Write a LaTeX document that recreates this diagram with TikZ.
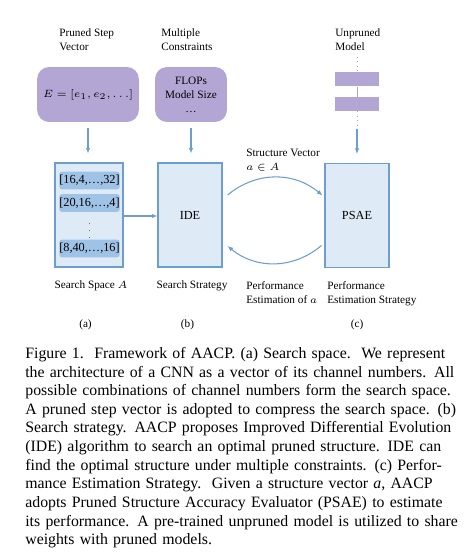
\documentclass[tikz,border=0pt]{standalone}
\usepackage{fontspec}
\setmainfont{Liberation Serif}
\usetikzlibrary{arrows.meta, positioning}
\definecolor{boxpurple}{RGB}{180,166,212}
\definecolor{boxblue}{RGB}{222,234,246}
\definecolor{itemblue}{RGB}{158,195,230}
\definecolor{lineblue}{RGB}{108,158,208}
\definecolor{modelgray}{RGB}{170,170,178}
\newcommand{\lblfont}{\fontsize{6.4}{8}\selectfont}
\newcommand{\capfont}{\fontsize{9}{10.6}\selectfont}
\newcommand{\capline}[1]{\hbox to\linewidth{#1}}

\tikzset{
  inbox/.style={draw=none, fill=boxpurple, rounded corners=0.24cm, minimum width=1.4cm,
    minimum height=1.1cm, align=center, font=\lblfont},
  stagebox/.style={draw=lineblue, line width=0.6pt, fill=boxblue, minimum width=1.28cm,
    minimum height=2.08cm, font=\fontsize{7}{8}\selectfont},
  itembox/.style={fill=itemblue, rounded corners=0.06cm, minimum width=1.18cm,
    minimum height=0.36cm, inner sep=0pt, font=\fontsize{7}{8}\selectfont},
  layerbox/.style={fill=boxpurple, minimum width=0.88cm, minimum height=0.28cm, inner sep=0pt},
  flow/.style={draw=lineblue, line width=0.6pt, -{Latex[length=3.2pt,width=2.6pt]}},
  modelline/.style={draw=modelgray, line width=0.5pt},
  lbl/.style={font=\lblfont, inner sep=0pt, align=left},
}

\begin{document}
\begin{tikzpicture}[x=0.02cm, y=-0.02cm]
    \useasboundingbox (0,0) rectangle (474,560);
    \fill[white] (0,0) rectangle (474,560);

    % Inputs at the top
    \node[lbl, anchor=north west] (steplbl) at (59,28) {Pruned Step\\Vector};
    \node[lbl, anchor=north west] (conslbl) at (161,28) {Multiple\\Constraints};
    \node[lbl, anchor=north west] (modellbl) at (335,28) {Unpruned\\Model};

    \node[inbox] (step) at (88,94.5) {$E = [e_1, e_2, \ldots]$};
    \node[inbox, minimum width=1.44cm] (cons) at (191,94.5) {FLOPs\\Model Size\\\ldots};

    % Unpruned model
    \node[layerbox] (layer1) at (357,79.5) {};
    \node[layerbox] (layer2) at (357,104) {};
    \coordinate (mtop) at (357,57);
    \coordinate (mbot) at (357,129);
    \draw[modelline, dotted] (mtop) -- (layer1.north);
    \draw[modelline] (layer1.south) -- (layer2.north);
    \draw[modelline, dotted] (layer2.south) -- (mbot);

    % Search space
    \node[stagebox, minimum width=1.36cm] (space) at (89,215) {};
    \node[itembox] (item1) at (89.5,180.5) {[16,4,\ldots,32]};
    \node[itembox] (item2) at (89.5,203) {[20,16,\ldots,4]};
    \node[font=\fontsize{4.2}{5}\selectfont, inner sep=0pt] (itemdots) at (89.5,225.5) {$\vdots$};
    \node[itembox] (item3) at (89.5,248.5) {[8,40,\ldots,16]};

    % Search strategy and evaluator
    \node[stagebox] (ide) at (190,215) {IDE};
    \node[stagebox] (psae) at (357,215.5) {PSAE};

    % Arrows
    \draw[flow, shorten <=0.12cm, shorten >=0.18cm] (step.south) -- (step.south |- space.north);
    \draw[flow, shorten <=0.12cm, shorten >=0.18cm] (cons.south) -- (cons.south |- ide.north);
    \draw[flow, shorten >=0.18cm] (mbot) -- (mbot |- psae.north);
    \draw[flow] (space.east |- 0,216) -- (ide.west |- 0,216);
    \draw[flow] ([shift={(0.1cm,0.4cm)}]ide.east) to[bend left=40] ([shift={(-0.04cm,0.4cm)}]psae.west);
    \draw[flow] ([shift={(-0.06cm,-0.6cm)}]psae.west) to[bend left=40] ([shift={(0.1cm,-0.62cm)}]ide.east);

    % Labels under the boxes
    \node[lbl, anchor=north west] (veclbl) at (246,149) {Structure Vector\\$a \in A$};
    \node[lbl] (spacelbl) at (91,286) {Search Space $A$};
    \node[lbl] (stratlbl) at (192,286) {Search Strategy};
    \node[lbl, anchor=north west] (perflbl) at (246,281) {Performance\\Estimation of $a$};
    \node[lbl, anchor=north west] (estlbl) at (327,281) {Performance\\Estimation Strategy};
    \node[lbl] (suba) at (85.5,325) {(a)};
    \node[lbl] (subb) at (187.5,325) {(b)};
    \node[lbl] (subc) at (357,325) {(c)};

    % Caption
    \node[anchor=north west, inner sep=0pt, text width=8.18cm, font=\capfont] (caption) at (25,347) {%
      \capline{Figure 1.\ \ Framework of AACP. (a) Search space.\ \ We represent}
      \capline{the architecture of a CNN as a vector of its channel numbers. All}
      \capline{possible combinations of channel numbers form the search space.}
      \capline{A pruned step vector is adopted to compress the search space. (b)}
      \capline{Search strategy. AACP proposes Improved Differential Evolution}
      \capline{(IDE) algorithm to search an optimal pruned structure. IDE can}
      \capline{find the optimal structure under multiple constraints. (c) Perfor-}
      \capline{mance Estimation Strategy.\ \ Given a structure vector \textit{a}, AACP}
      \capline{adopts Pruned Structure Accuracy Evaluator (PSAE) to estimate}
      \capline{its performance. A pre-trained unpruned model is utilized to share}
      \hbox{weights with pruned models.}};
\end{tikzpicture}
\end{document}
